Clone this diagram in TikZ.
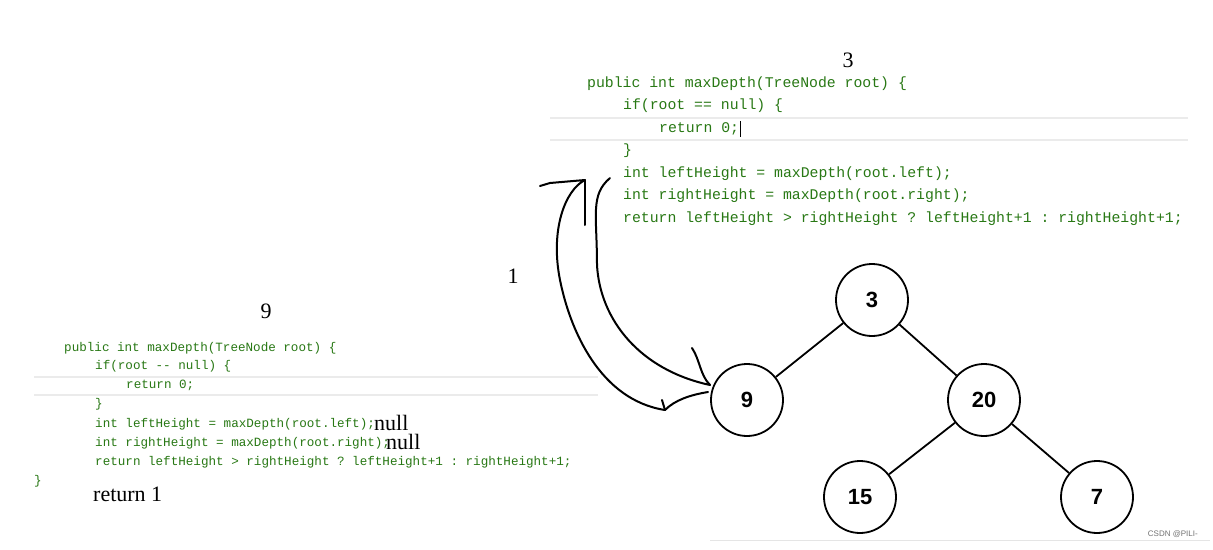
\documentclass[tikz,border=0pt]{standalone}
\usepackage{fontspec}
\setmonofont{Liberation Mono}
\setmainfont{Liberation Serif}
\setsansfont{Liberation Sans}
\begin{document}
\begin{tikzpicture}[x=1pt,y=-1pt,
  codeA/.style={anchor=west,inner sep=0,text=codegreen,font=\ttfamily\fontsize{14.8}{16}\selectfont},
  codeB/.style={anchor=west,inner sep=0,text=codegreen,font=\ttfamily\fontsize{12.6}{14}\selectfont},
  lbl/.style={inner sep=0,font=\rmfamily\fontsize{22}{24}\selectfont},
  tnode/.style={circle,draw,line width=1.8pt,minimum size=72pt,inner sep=0,font=\sffamily\bfseries\fontsize{22}{24}\selectfont},
  edge/.style={line width=1.8pt},
  hand/.style={line width=2pt,line cap=round,line join=round},
  sep/.style={draw=black!8,line width=1.5pt}]
\definecolor{codegreen}{RGB}{40,120,20}
\useasboundingbox (0,0) rectangle (1213,549);
\fill[white] (0,0) rectangle (1213,549);
% top code
\draw[sep] (550,118) -- (1188,118); \draw[sep] (550,140) -- (1188,140);
\node[lbl] (l3) at (848,60) {3};
\node[codeA] (a1) at (587,84) {public int maxDepth(TreeNode root) \{};
\node[codeA] (a2) at (623,106) {if(root == null) \{};
\node[codeA] (a3) at (659,129) {return 0;};
\draw[line width=1pt] (740,121) -- (740,137);
\node[codeA] (a4) at (623,151) {\}};
\node[codeA] (a5) at (623,174) {int leftHeight = maxDepth(root.left);};
\node[codeA] (a6) at (623,196) {int rightHeight = maxDepth(root.right);};
\node[codeA] (a7) at (623,219) {return leftHeight > rightHeight ? leftHeight+1 : rightHeight+1;};
% left code
\draw[sep] (34,377) -- (598,377); \draw[sep] (34,395) -- (598,395);
\node[lbl] (l9) at (266,311) {9};
\node[codeB] (b1) at (64,348) {public int maxDepth(TreeNode root) \{};
\node[codeB] (b2) at (95,366) {if(root -- null) \{};
\node[codeB] (b3) at (126,385) {return 0;};
\node[codeB] (b4) at (95,404) {\}};
\node[codeB] (b5) at (95,424) {int leftHeight = maxDepth(root.left);};
\node[codeB] (b6) at (95,443) {int rightHeight = maxDepth(root.right);};
\node[codeB] (b7) at (95,462) {return leftHeight > rightHeight ? leftHeight+1 : rightHeight+1;};
\node[codeB] (b8) at (34,481) {\}};
\node[lbl,anchor=west] (n1) at (374,423) {null};
\node[lbl,anchor=west] (n2) at (386,442) {null};
\node[lbl,anchor=west] (r1) at (93,494) {return 1};
\node[lbl] (one) at (513,276) {1};
% tree
\node[tnode] (t3) at (872,300) {3};
\node[tnode] (t9) at (747,400) {9};
\node[tnode] (t20) at (984,400) {20};
\node[tnode] (t15) at (860,497) {15};
\node[tnode] (t7) at (1097,497) {7};
\draw[edge] (t3) -- (t9); \draw[edge] (t3) -- (t20);
\draw[edge] (t20) -- (t15); \draw[edge] (t20) -- (t7);
\draw[black!10,line width=1pt] (710,540) -- (1210,540);
\node[anchor=east,inner sep=0,text=black!55,font=\sffamily\fontsize{8}{9}\selectfont] (wm) at (1198,534) {CSDN @PILI-};
% hand-drawn arrows
\coordinate (p1) at (610,178);
\coordinate (p2) at (710,385);
\coordinate (p3) at (692,348);
\coordinate (p4) at (708,392);
\coordinate (p5) at (665,410);
\coordinate (p6) at (585,180);
\coordinate (p7) at (540,186);
\coordinate (p8) at (585,225);
\draw[hand] (p1) .. controls (590,195) and (597,215) .. (597,265)
  .. controls (600,320) and (640,370) .. (p2);
\draw[hand] (p3) .. controls (700,360) and (700,375) .. (p2);
\draw[hand] (p4) .. controls (690,395) and (675,400) .. (p5);
\draw[hand] (p5) -- (662,400);
\draw[hand] (p5) .. controls (600,400) and (570,330) .. (560,280)
  .. controls (550,230) and (565,190) .. (p6) -- (550,183) -- (p7);
\draw[hand] (p6) -- (p8);
\end{tikzpicture}
\end{document}
